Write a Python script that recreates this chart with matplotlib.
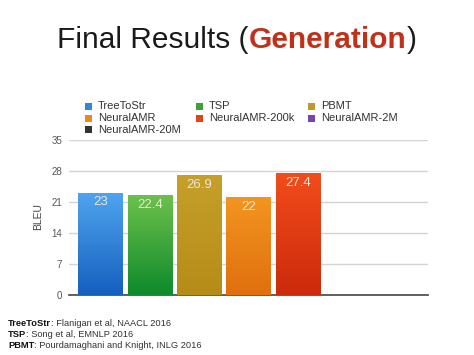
import numpy as np
import matplotlib
matplotlib.use("Agg")
import matplotlib.pyplot as plt
from matplotlib.colors import LinearSegmentedColormap
from matplotlib.patches import Rectangle

# data
systems = ["TreeToStr", "TSP", "PBMT", "NeuralAMR", "NeuralAMR-200k",
           "NeuralAMR-2M", "NeuralAMR-20M"]
bleu = [23, 22.4, 26.9, 22, 27.4]
yticks = [0, 7, 14, 21, 28, 35]
refs = [("TreeToStr", ": Flanigan et al, NAACL 2016"),
        ("TSP", ": Song et al, EMNLP 2016"),
        ("PBMT", ": Pourdamaghani and Knight, INLG 2016")]

# (top, bottom) gradient colours per bar
grads = [("#4fa3ee", "#1560c0"), ("#6cc04c", "#0f8a2c"), ("#c6a02a", "#b58c18"),
         ("#f2951f", "#e0700e"), ("#f24c1c", "#cc2a0c")]
legend_colors = ["#2f86e0", "#3aa040", "#c09a28", "#e88a1e", "#e04418",
                 "#7a44b0", "#333333"]

plt.rcParams["font.family"] = ["Liberation Sans", "DejaVu Sans"]

fig = plt.figure(figsize=(4.74, 3.55), dpi=100)
ax = fig.add_axes([0.1456, 0.1704, 0.9030 - 0.1456, 0.607 - 0.1704])

x = np.arange(len(bleu))
bars = ax.bar(x, bleu, width=0.9, color="none", zorder=3)
for i, b in enumerate(bars):
    top, bot = grads[i]
    cmap = LinearSegmentedColormap.from_list("g%d" % i, [bot, top])
    im = ax.imshow(np.linspace(0, 1, 64).reshape(-1, 1), cmap=cmap, aspect="auto",
                   origin="lower", extent=(b.get_x(), b.get_x() + b.get_width(), 0, b.get_height()),
                   zorder=3)
    im.set_clip_path(b)
    ax.text(b.get_x() + b.get_width() / 2, b.get_height() - 0.8, str(bleu[i]),
            ha="center", va="top", fontsize=9.5, color="#ece6da", zorder=4)

ax.set_xlim(-0.64, 6.64)
ax.set_ylim(0, 35)
ax.set_yticks(yticks)
ax.set_xticks([])
ax.yaxis.grid(True, color="#d4d4d4", linewidth=1.0)
ax.set_axisbelow(True)
for s in ["top", "right", "left"]:
    ax.spines[s].set_visible(False)
ax.spines["bottom"].set_color("#444444")
ax.spines["bottom"].set_linewidth(1.2)
ax.tick_params(axis="y", length=0, labelsize=7, labelcolor="#555555", pad=5)
ax.set_ylabel("BLEU", fontsize=7.5, color="#444444", labelpad=6)

# legend, laid out in rows of three like the slide
col_x = [85, 196, 308]
row_y = [106, 118, 130]
for k, name in enumerate(systems):
    row, col = divmod(k, 3)
    cx, cy = col_x[col], row_y[row]
    fig.patches.append(Rectangle((cx / 474, 1 - (cy + 3.5) / 355), 7 / 474, 7 / 355,
                                 transform=fig.transFigure, facecolor=legend_colors[k],
                                 edgecolor="none"))
    fig.text((cx + 13) / 474, 1 - cy / 355, name, fontsize=8, color="#333333",
             va="center", ha="left")

# title in three pieces
fig.canvas.draw()
r = fig.canvas.get_renderer()
parts = [("Final Results (", "normal", "#1a1a1a"), ("Generation", "bold", "#c0311a"),
         (")", "normal", "#1a1a1a")]
texts = []
for s, w, c in parts:
    texts.append(fig.text(0, 1 - 40 / 355, s, fontsize=21.5, fontweight=w, color=c,
                          va="center", ha="left"))
widths = [t.get_window_extent(r).width for t in texts]
total = sum(widths)
xpos = (474 - total) / 2
for t, w in zip(texts, widths):
    t.set_x(xpos / 474)
    xpos += w

# references
for k, (name, rest) in enumerate(refs):
    y = 1 - (324 + 10.7 * k) / 355
    t1 = fig.text(8 / 474, y, name, fontsize=6.7, fontweight="bold", color="#111111", va="center")
    w = t1.get_window_extent(r).width
    fig.text((8 + w) / 474, y, rest, fontsize=6.7, color="#333333", va="center")

fig.savefig("out.png", dpi=100)
